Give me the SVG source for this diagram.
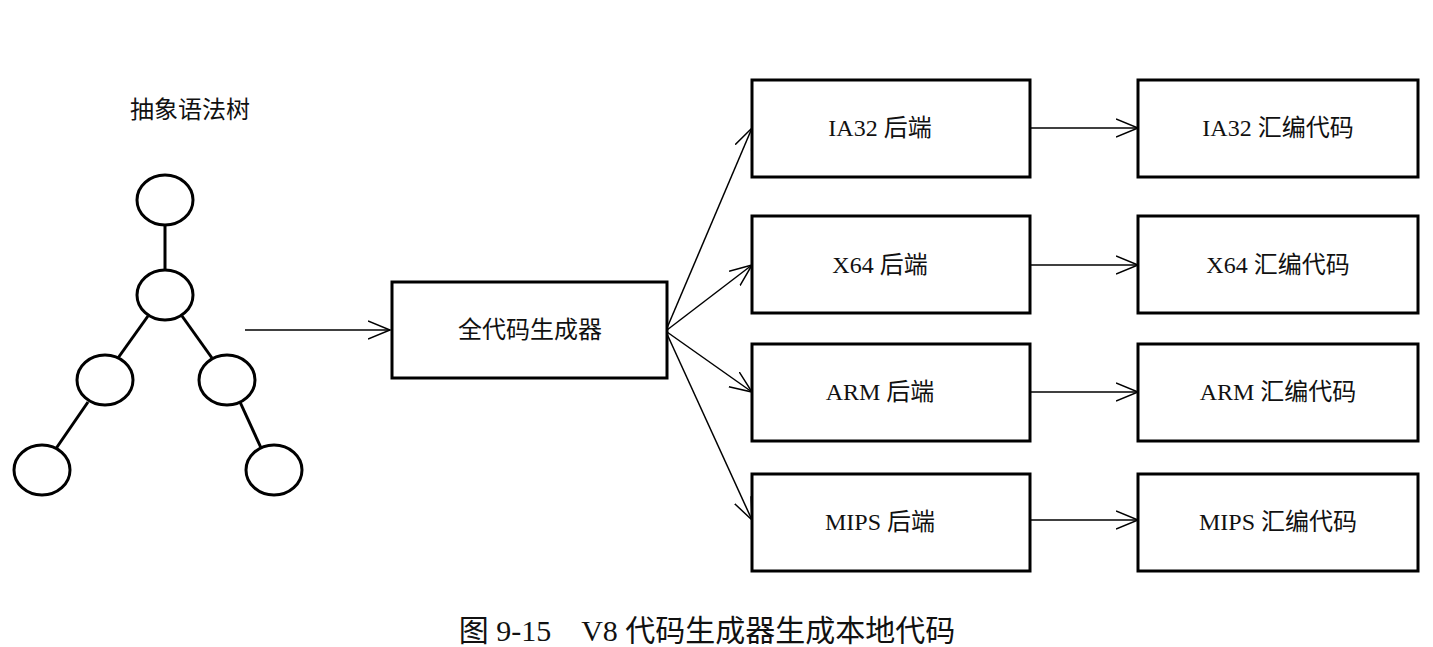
<svg xmlns="http://www.w3.org/2000/svg" width="1433" height="647" viewBox="0 0 1433 647">
<defs><marker id="a" markerWidth="24" markerHeight="20" refX="22" refY="10" orient="auto" markerUnits="userSpaceOnUse"><path d="M0,1 L22,10 L0,19" fill="none" stroke="#000" stroke-width="1.5"/></marker></defs>
<style>
.b{fill:#fff;stroke:#000;stroke-width:3}
.c{fill:#fff;stroke:#000;stroke-width:3}
.t{font-family:"Liberation Serif","Noto Sans CJK SC",serif;font-size:24px;text-anchor:middle;dominant-baseline:central;fill:#111}
.l{stroke:#000;stroke-width:1.5;fill:none}
.e{stroke:#000;stroke-width:3}
</style>
<rect width="1433" height="647" fill="#fff"/>
<g id="tree">
<text class="t" x="190" y="110">抽象语法树</text>
<line class="e" x1="165" y1="224" x2="165" y2="272"/>
<line class="e" x1="148" y1="316" x2="118" y2="358"/>
<line class="e" x1="182" y1="316" x2="212" y2="358"/>
<line class="e" x1="88" y1="402" x2="55" y2="450"/>
<line class="e" x1="240" y1="402" x2="262" y2="450"/>
<ellipse class="c" cx="165" cy="200" rx="28" ry="25"/>
<ellipse class="c" cx="165" cy="295" rx="28" ry="25"/>
<ellipse class="c" cx="105" cy="380" rx="28" ry="25"/>
<ellipse class="c" cx="227" cy="380" rx="28" ry="25"/>
<ellipse class="c" cx="42" cy="470" rx="28" ry="25"/>
<ellipse class="c" cx="274" cy="470" rx="28" ry="25"/>
</g>
<g id="connectors">
<line class="l" x1="245" y1="330" x2="390" y2="330" marker-end="url(#a)"/>
<line class="l" x1="667" y1="328" x2="752" y2="128" marker-end="url(#a)"/>
<line class="l" x1="667" y1="330" x2="752" y2="265" marker-end="url(#a)"/>
<line class="l" x1="667" y1="332" x2="752" y2="392" marker-end="url(#a)"/>
<line class="l" x1="667" y1="334" x2="752" y2="520" marker-end="url(#a)"/>
<line class="l" x1="1030" y1="128" x2="1138" y2="128" marker-end="url(#a)"/>
<line class="l" x1="1030" y1="265" x2="1138" y2="265" marker-end="url(#a)"/>
<line class="l" x1="1030" y1="392" x2="1138" y2="392" marker-end="url(#a)"/>
<line class="l" x1="1030" y1="520" x2="1138" y2="520" marker-end="url(#a)"/>
</g>
<g id="fullcodegen"><rect class="b" x="392" y="282" width="275" height="96"/><text class="t" x="530" y="330">全代码生成器</text></g>
<g id="ia32"><rect class="b" x="752" y="80" width="278" height="97"/><text class="t" x="880" y="128">IA32 后端</text></g>
<g id="x64"><rect class="b" x="752" y="216" width="278" height="97"/><text class="t" x="880" y="265">X64 后端</text></g>
<g id="arm"><rect class="b" x="752" y="344" width="278" height="97"/><text class="t" x="880" y="392">ARM 后端</text></g>
<g id="mips"><rect class="b" x="752" y="474" width="278" height="97"/><text class="t" x="880" y="522">MIPS 后端</text></g>
<g id="ia32asm"><rect class="b" x="1138" y="80" width="280" height="97"/><text class="t" x="1278" y="128">IA32 汇编代码</text></g>
<g id="x64asm"><rect class="b" x="1138" y="216" width="280" height="97"/><text class="t" x="1278" y="265">X64 汇编代码</text></g>
<g id="armasm"><rect class="b" x="1138" y="344" width="280" height="97"/><text class="t" x="1278" y="392">ARM 汇编代码</text></g>
<g id="mipsasm"><rect class="b" x="1138" y="474" width="280" height="97"/><text class="t" x="1278" y="522">MIPS 汇编代码</text></g>
<text class="t" x="707" y="630" style="font-size:30px" xml:space="preserve">图 9-15    V8 代码生成器生成本地代码</text>
</svg>
